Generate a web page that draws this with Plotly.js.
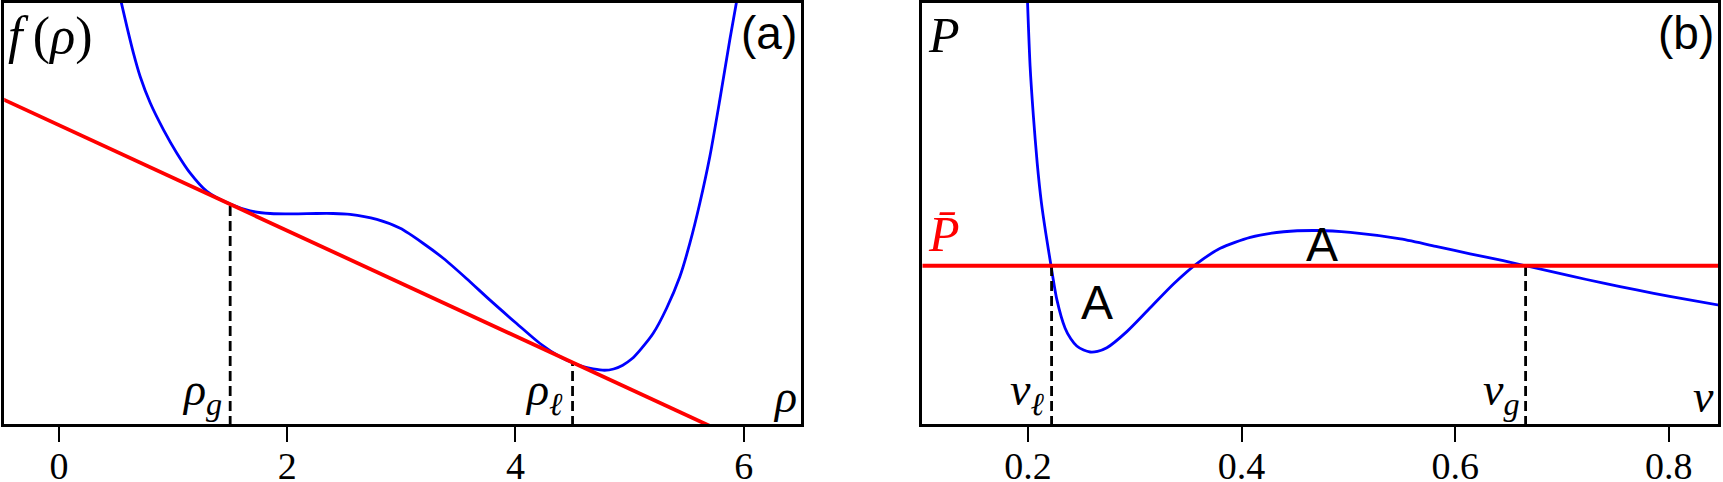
<!DOCTYPE html>
<html>
<head>
<meta charset="utf-8">
<script src="https://cdn.plot.ly/plotly-3.0.1.min.js"></script>
<style>html,body{margin:0;padding:0;background:#fff;}#chart{width:1723px;height:482px;}</style>
</head>
<body>
<div id="chart"></div>
<script>
// ---- Panel (a): free energy f(rho) ----
const rhoBlue = [0.543, 0.595, 0.653, 0.712, 0.80, 0.916, 1.033, 1.15, 1.296, 1.50, 1.675, 1.85, 2.05, 2.26, 2.40, 2.55, 2.785, 2.99, 3.19, 3.37, 3.57, 3.777, 4.01, 4.215, 4.39, 4.506, 4.60, 4.68, 4.78, 4.86, 4.94, 5.02, 5.09, 5.207, 5.324, 5.44, 5.528, 5.615, 5.703, 5.79, 5.878, 5.94];
const fBlue   = [10.0, 9.40, 8.77, 8.22, 7.60, 6.97, 6.42, 5.95, 5.52, 5.22, 5.06, 5.00, 4.99, 5.00, 5.00, 4.98, 4.86, 4.65, 4.30, 3.94, 3.47, 2.96, 2.41, 1.94, 1.63, 1.48, 1.39, 1.343, 1.31, 1.34, 1.43, 1.58, 1.78, 2.18, 2.77, 3.51, 4.30, 5.24, 6.34, 7.67, 9.09, 10.03];
const rhoRed = [-0.5, 6.5];
const fRed   = [7.70, -0.99];
const rhoG = 1.5, fG = 5.21;
const rhoL = 4.5, fL = 1.48;
const rhoTicks = [0, 2, 4, 6];
const rhoTickText = ["0", "2", "4", "6"];

// ---- Panel (b): pressure P(nu) ----
const nuBlue = [0.1994, 0.2019, 0.205, 0.2085, 0.2125, 0.2165, 0.2215, 0.2269, 0.2347, 0.240, 0.2456, 0.252, 0.2581, 0.265, 0.2738, 0.2925, 0.3144, 0.3362, 0.3581, 0.38, 0.4081, 0.4394, 0.4706, 0.5019, 0.5488, 0.583, 0.614, 0.645, 0.666, 0.708, 0.739, 0.770, 0.801, 0.848];
const pBlue  = [10.03, 8.46, 7.28, 6.20, 5.25, 4.55, 3.77, 2.98, 2.30, 2.05, 1.88, 1.785, 1.74, 1.755, 1.84, 2.22, 2.78, 3.34, 3.82, 4.18, 4.44, 4.57, 4.60, 4.555, 4.40, 4.22, 4.05, 3.89, 3.77, 3.53, 3.36, 3.20, 3.05, 2.84];
const nuRed = [0.09, 0.86];
const pBar = 3.77;
const nuL = 0.222, nuG = 0.666;
const nuTicks = [0.2, 0.4, 0.6, 0.8];
const nuTickText = ["0.2", "0.4", "0.6", "0.8"];
const areaLabelNu = [0.265, 0.4756];
const areaLabelP  = [2.91, 3.79];

const BLUE = "#0000ff", RED = "#ff0000";
const dash = "10px,5px";

const traces = [
  {x: rhoBlue, y: fBlue, xaxis: "x", yaxis: "y", mode: "lines", line: {color: BLUE, width: 2.8, shape: "spline", smoothing: 0.7}},
  {x: [rhoG, rhoG], y: [0, fG], xaxis: "x", yaxis: "y", mode: "lines", line: {color: "#000", width: 2.8, dash: dash}},
  {x: [rhoL, rhoL], y: [0, fL], xaxis: "x", yaxis: "y", mode: "lines", line: {color: "#000", width: 2.8, dash: dash}},
  {x: rhoRed, y: fRed, xaxis: "x", yaxis: "y", mode: "lines", line: {color: RED, width: 3.8}},

  {x: nuBlue, y: pBlue, xaxis: "x2", yaxis: "y2", mode: "lines", line: {color: BLUE, width: 2.8, shape: "spline", smoothing: 0.7}},
  {x: [nuL, nuL], y: [0, pBar], xaxis: "x2", yaxis: "y2", mode: "lines", line: {color: "#000", width: 2.8, dash: dash}},
  {x: [nuG, nuG], y: [0, pBar], xaxis: "x2", yaxis: "y2", mode: "lines", line: {color: "#000", width: 2.8, dash: dash}},
  {x: nuRed, y: [pBar, pBar], xaxis: "x2", yaxis: "y2", mode: "lines", line: {color: RED, width: 3.8}}
];

const serif = "Liberation Serif, Times New Roman, serif";
const sans = "Liberation Sans, Arial, sans-serif";
const mathFont = {family: serif, size: 46, color: "#000"};

const xBase = {
  showline: true, linewidth: 3, linecolor: "#000", mirror: true,
  showgrid: false, zeroline: false,
  ticks: "outside", ticklen: 15, tickwidth: 2, tickcolor: "#000",
  ticklabelstandoff: -9,
  tickfont: {family: serif, size: 38, color: "#000"},
  fixedrange: true
};
const yBase = {
  showline: true, linewidth: 3, linecolor: "#000", mirror: true,
  showgrid: false, zeroline: false, showticklabels: false, ticks: "",
  range: [0.04, 9.96], domain: [0.1199, 0.9942], fixedrange: true
};

const ann = [
  {xref: "x domain", yref: "y domain", x: 0, y: 1, xanchor: "left", yanchor: "top", xshift: 2, yshift: -2,
   text: "<i>f</i>\u2009(<i>ρ</i>)", showarrow: false, font: {family: serif, size: 52, color: "#000"}},
  {xref: "x domain", yref: "y domain", x: 1, y: 1, xanchor: "right", yanchor: "top", xshift: -2, yshift: -2,
   text: "(a)", showarrow: false, font: {family: sans, size: 46, color: "#000"}},
  {xref: "x", yref: "y", x: rhoG, y: 0.04, xanchor: "right", yanchor: "bottom", xshift: -6, yshift: 0,
   text: "<i>ρ<sub>g</sub></i>", showarrow: false, font: mathFont},
  {xref: "x", yref: "y", x: rhoL, y: 0.04, xanchor: "right", yanchor: "bottom", xshift: -8, yshift: 0,
   text: "<i>ρ<sub>ℓ</sub></i>", showarrow: false, font: mathFont},
  {xref: "x domain", yref: "y", x: 1, y: 0.04, xanchor: "right", yanchor: "bottom", xshift: -2, yshift: 0,
   text: "<i>ρ</i>", showarrow: false, font: mathFont},

  {xref: "x2 domain", yref: "y2 domain", x: 0, y: 1, xanchor: "left", yanchor: "top", xshift: 4, yshift: -2,
   text: "<i>P</i>", showarrow: false, font: {family: serif, size: 50, color: "#000"}},
  {xref: "x2 domain", yref: "y2", x: 0, y: pBar, xanchor: "left", yanchor: "bottom", xshift: 4, yshift: 2,
   text: "<i>P̄</i>", showarrow: false, font: {family: serif, size: 50, color: RED}},
  {xref: "x2", yref: "y2", x: areaLabelNu[0], y: areaLabelP[0], xanchor: "center", yanchor: "middle",
   text: "A", showarrow: false, font: {family: sans, size: 48, color: "#000"}},
  {xref: "x2", yref: "y2", x: areaLabelNu[1], y: areaLabelP[1], xanchor: "center", yanchor: "bottom", yshift: -8,
   text: "A", showarrow: false, font: {family: sans, size: 48, color: "#000"}},
  {xref: "x2 domain", yref: "y2 domain", x: 1, y: 1, xanchor: "right", yanchor: "top", xshift: -2, yshift: -2,
   text: "(b)", showarrow: false, font: {family: sans, size: 46, color: "#000"}},
  {xref: "x2", yref: "y2", x: nuL, y: 0.04, xanchor: "right", yanchor: "bottom", xshift: -6, yshift: 0,
   text: "<i>ν<sub>ℓ</sub></i>", showarrow: false, font: mathFont},
  {xref: "x2", yref: "y2", x: nuG, y: 0.04, xanchor: "right", yanchor: "bottom", xshift: -4, yshift: 0,
   text: "<i>ν<sub>g</sub></i>", showarrow: false, font: mathFont},
  {xref: "x2 domain", yref: "y2", x: 1, y: 0.04, xanchor: "right", yanchor: "bottom", xshift: -2, yshift: 0,
   text: "<i>ν</i>", showarrow: false, font: mathFont}
];

const layout = {
  width: 1723, height: 482,
  margin: {l: 0, r: 0, t: 0, b: 0, pad: 0},
  paper_bgcolor: "#fff", plot_bgcolor: "#fff",
  showlegend: false,
  xaxis: Object.assign({}, xBase, {domain: [0.002438, 0.46477], range: [-0.48, 6.5], tickvals: rhoTicks, ticktext: rhoTickText, anchor: "y"}),
  yaxis: Object.assign({}, yBase, {anchor: "x"}),
  xaxis2: Object.assign({}, xBase, {domain: [0.5354, 0.99721], range: [0.1011, 0.8464], tickvals: nuTicks, ticktext: nuTickText, anchor: "y2"}),
  yaxis2: Object.assign({}, yBase, {anchor: "x2"}),
  annotations: ann
};

Plotly.newPlot("chart", traces, layout, {displayModeBar: false, staticPlot: true});
</script>
</body>
</html>
